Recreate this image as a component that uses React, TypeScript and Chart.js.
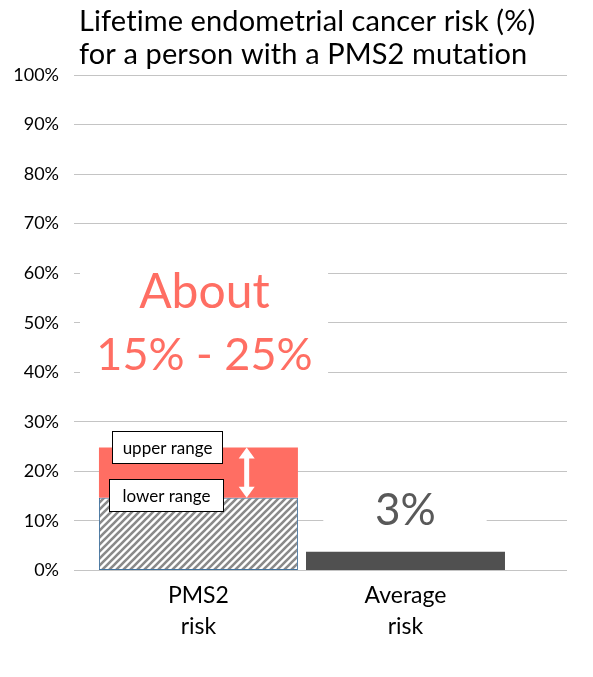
import React, { useEffect, useRef } from "react";
import { Chart, registerables } from "chart.js";

Chart.register(...registerables);

// ---- data ----
const titleLines = ["Lifetime endometrial cancer risk (%)", "for a person with a PMS2 mutation"];
const categories = [["PMS2", "risk"], ["Average", "risk"]];
const lowerRange: (number | null)[] = [14.7, null];
const upperRange: (number | null)[] = [24.8, null];
const averageRisk: (number | null)[] = [null, 3.8];
const yTicks = [0, 10, 20, 30, 40, 50, 60, 70, 80, 90, 100];
const rangeCallout = ["About", "15% - 25%"];
const averageCallout = "3%";
const boxLabels = ["upper range", "lower range"];

const FONT = "Lato";
const CORAL = "#FF6E63";

function makeHatch(): CanvasPattern | string {
  const s = 7;
  const c = document.createElement("canvas");
  c.width = s;
  c.height = s;
  const g = c.getContext("2d");
  if (!g) return "#999";
  g.fillStyle = "#ffffff";
  g.fillRect(0, 0, s, s);
  g.strokeStyle = "#8A8A8A";
  g.lineWidth = 2.6;
  g.beginPath();
  g.moveTo(-1, 1); g.lineTo(1, -1);
  g.moveTo(-1, s + 1); g.lineTo(s + 1, -1);
  g.moveTo(s - 1, s + 1); g.lineTo(s + 1, s - 1);
  g.stroke();
  return g.createPattern(c, "repeat") || "#999";
}

const annotationPlugin = {
  id: "annotations",
  beforeDatasetsDraw(chart: any) {
    const { ctx } = chart;
    const xs = chart.scales.x;
    const ys = chart.scales.y;
    const px = (v: number) => xs.getPixelForValue(v);
    const py = (v: number) => ys.getPixelForValue(v);
    ctx.save();
    ctx.fillStyle = "#ffffff";
    // white backing behind the callouts
    ctx.fillRect(px(-0.572), py(63.7), px(0.626) - px(-0.572), py(35.4) - py(63.7));
    ctx.fillRect(px(0.603), py(18.3), px(1.392) - px(0.603), py(5.1) - py(18.3));
    ctx.restore();
  },
  afterDatasetsDraw(chart: any) {
    const { ctx } = chart;
    const xs = chart.scales.x;
    const ys = chart.scales.y;
    const px = (v: number) => xs.getPixelForValue(v);
    const py = (v: number) => ys.getPixelForValue(v);
    ctx.save();

    // range callout
    ctx.fillStyle = CORAL;
    ctx.textAlign = "center";
    ctx.textBaseline = "alphabetic";
    ctx.font = `48px ${FONT}`;
    ctx.fillText(rangeCallout[0], px(0.029), py(53.0));
    ctx.font = `45px ${FONT}`;
    ctx.fillText(rangeCallout[1], px(0.029), py(40.5));

    // average callout
    ctx.fillStyle = "#595959";
    ctx.font = `44px ${FONT}`;
    ctx.fillText(averageCallout, px(1.0), py(9.2));

    // double arrow between lower and upper range
    const top = py(upperRange[0] as number);
    const bot = py(lowerRange[0] as number);
    const cx = px(0.233);
    const hw = 8, sw = 2.5, hl = 11;
    ctx.fillStyle = "#ffffff";
    ctx.beginPath();
    ctx.moveTo(cx, top);
    ctx.lineTo(cx + hw, top + hl);
    ctx.lineTo(cx + sw, top + hl);
    ctx.lineTo(cx + sw, bot - hl);
    ctx.lineTo(cx + hw, bot - hl);
    ctx.lineTo(cx, bot);
    ctx.lineTo(cx - hw, bot - hl);
    ctx.lineTo(cx - sw, bot - hl);
    ctx.lineTo(cx - sw, top + hl);
    ctx.lineTo(cx - hw, top + hl);
    ctx.closePath();
    ctx.fill();

    // label boxes
    const boxes = [
      { text: boxLabels[0], x0: -0.419, x1: 0.112, y0: 28.2, y1: 21.6 },
      { text: boxLabels[1], x0: -0.431, x1: 0.12, y0: 18.4, y1: 12.0 },
    ];
    ctx.font = `17px ${FONT}`;
    ctx.lineWidth = 1;
    for (const b of boxes) {
      const l = Math.round(px(b.x0)) + 0.5;
      const r = Math.round(px(b.x1)) + 0.5;
      const t = Math.round(py(b.y0)) + 0.5;
      const bt = Math.round(py(b.y1)) + 0.5;
      ctx.fillStyle = "#ffffff";
      ctx.fillRect(l, t, r - l, bt - t);
      ctx.strokeStyle = "#000000";
      ctx.strokeRect(l, t, r - l, bt - t);
      ctx.fillStyle = "#000000";
      ctx.textAlign = "center";
      ctx.textBaseline = "middle";
      ctx.fillText(b.text, (l + r) / 2, (t + bt) / 2 + 1);
    }
    ctx.restore();
  },
  afterDraw(chart: any) {
    const { ctx } = chart;
    ctx.save();
    ctx.fillStyle = "#000000";
    ctx.font = `29px ${FONT}`;
    ctx.textAlign = "left";
    ctx.textBaseline = "alphabetic";
    // a tiny letter spacing keeps the "ti" pairs as separate glyphs
    if ("letterSpacing" in ctx) (ctx as any).letterSpacing = "0.1px";
    ctx.fillText(titleLines[0], 79, 31);
    ctx.fillText(titleLines[1], 79, 64);
    ctx.restore();
  },
};

export default function App() {
  const ref = useRef<HTMLCanvasElement | null>(null);

  useEffect(() => {
    if (!ref.current) return;
    const hatch = makeHatch();
    const toPoints = (arr: (number | null)[], floatingFrom?: (number | null)[]) =>
      categories
        .map((_, i) => {
          const v = arr[i];
          if (v == null) return null;
          if (floatingFrom) return { x: i, y: [floatingFrom[i] as number, v] };
          return { x: i, y: v };
        })
        .filter((p) => p !== null);

    const common = { grouped: false, barPercentage: 0.961, categoryPercentage: 1 };

    const chart = new Chart(ref.current, {
      type: "bar",
      data: {
        datasets: [
          {
            label: "lower range",
            data: toPoints(lowerRange) as any,
            backgroundColor: hatch as any,
            borderColor: "#41719C",
            borderWidth: 1,
            borderSkipped: false,
            ...common,
          },
          {
            label: "upper range",
            data: toPoints(upperRange, lowerRange) as any,
            backgroundColor: CORAL,
            borderWidth: 0,
            ...common,
          },
          {
            label: "average risk",
            data: toPoints(averageRisk) as any,
            backgroundColor: "#505050",
            borderWidth: 0,
            ...common,
          },
        ] as any,
      },
      options: {
        responsive: false,
        animation: false,
        layout: { padding: { top: 75, right: 26, left: 0, bottom: 0 } },
        plugins: {
          legend: { display: false },
          tooltip: { enabled: false },
          title: { display: false },
        },
        scales: {
          x: {
            type: "linear",
            min: -0.601,
            max: 1.78,
            offset: false,
            grid: { display: false, drawTicks: false },
            border: { display: false },
            afterBuildTicks: (scale: any) => {
              scale.ticks = categories.map((_, i) => ({ value: i }));
            },
            afterFit: (scale: any) => {
              scale.height = 106.5;
            },
            ticks: {
              autoSkip: false,
              maxRotation: 0,
              padding: 10,
              color: "#000000",
              font: { family: FONT, size: 23, lineHeight: 1.35 },
              callback: (v: any) => categories[v as number] ?? "",
            },
          },
          y: {
            min: 0,
            max: 100,
            grid: { color: "#C4C4C4", drawTicks: false, lineWidth: 1 },
            border: { display: false },
            afterBuildTicks: (scale: any) => {
              scale.ticks = yTicks.map((v) => ({ value: v }));
            },
            afterFit: (scale: any) => {
              scale.width = 74;
            },
            ticks: {
              padding: 15,
              color: "#000000",
              font: { family: FONT, size: 18 },
              callback: (v: any) => `${v}%`,
            },
          },
        },
      } as any,
      plugins: [annotationPlugin],
    });
    return () => chart.destroy();
  }, []);

  return (
    <div style={{ position: "absolute", left: 0, top: 0, width: 593, height: 677, background: "#fff" }}>
      <canvas ref={ref} width={593} height={677} style={{ display: "block" }} />
    </div>
  );
}
